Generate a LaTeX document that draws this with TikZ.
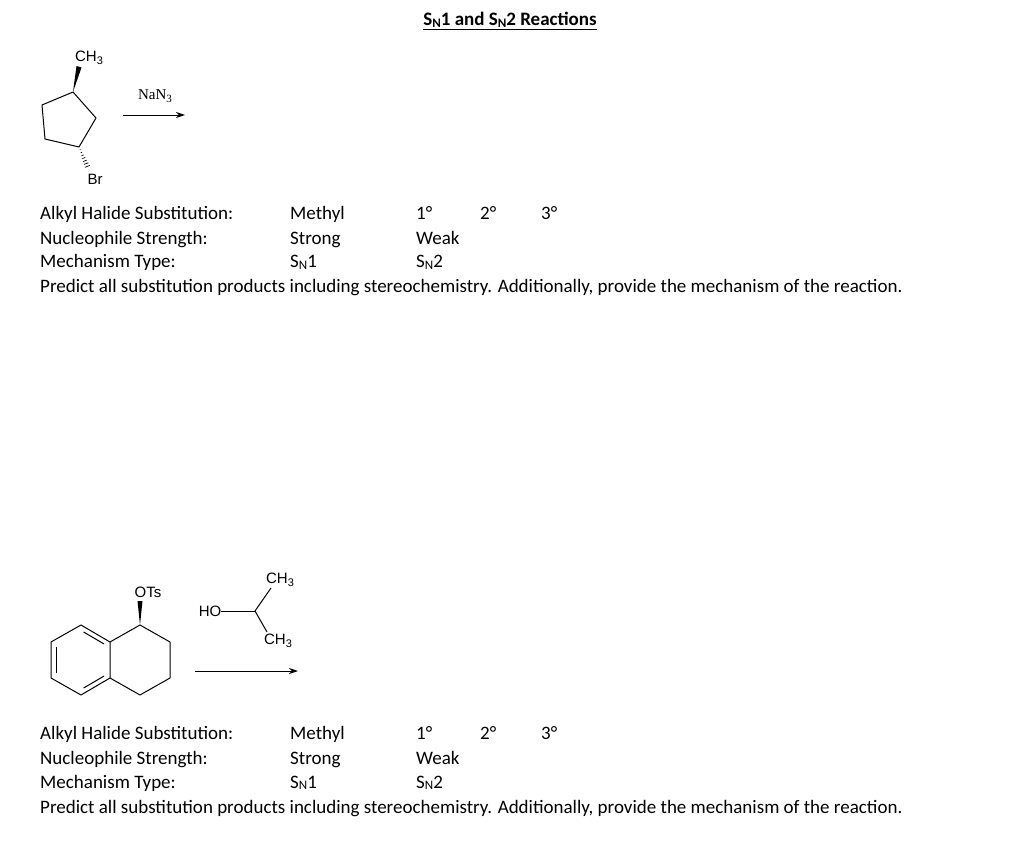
\documentclass[tikz,border=0pt]{standalone}
\usepackage{fontspec}
\setmainfont{Carlito}
\newfontfamily\arialf{Liberation Sans}
\newfontfamily\timesf{Liberation Serif}
\usetikzlibrary{calc,arrows.meta}
\newcommand{\sN}{S\raisebox{-1.5pt}{\fontsize{13}{13}\selectfont N}}
\newcommand{\subthree}{\raisebox{-3pt}{\fontsize{11}{11}\selectfont 3}}
\begin{document}
\begin{tikzpicture}[x=1pt,y=-1pt,
  txt/.style={anchor=base west,inner sep=0,font=\fontsize{19}{22}\selectfont},
  atom/.style={inner sep=0,font=\arialf\fontsize{15}{17}\selectfont},
  bnd/.style={line width=1pt},
  arr/.style={line width=0.9pt,-{Stealth[length=9pt,width=6pt]}}]
\useasboundingbox (0,0) rectangle (1024,858);
\node[inner sep=0,font=\bfseries\fontsize{19}{22}\selectfont] (title) at (510,21) {\underline{\sN1 and \sN2 Reactions}};
% ---- top molecule
\coordinate (a1) at (73,92); \coordinate (a2) at (96,118); \coordinate (a3) at (79,147);
\coordinate (a4) at (45,139); \coordinate (a5) at (42,105);
\draw[bnd,line join=round] (a1)--(a2)--(a3)--(a4)--(a5)--cycle;
\node[atom] (ch3a) at (89,58) {CH\subthree};
\fill (a1) -- (76.5,66) -- (81.5,67.5) -- cycle;
\node[atom] (br) at (95,179) {Br};
\foreach \t in {0.12,0.24,...,0.96} {
  \draw[line width=0.7pt] ($(a3)!\t!(89,170)+(-3*\t,1.2*\t)$) -- ($(a3)!\t!(89,170)+(3*\t,-1.2*\t)$);
}
\coordinate (r1s) at (123,115); \coordinate (r1e) at (185,115);
\draw[arr] (r1s) -- (r1e);
\node[inner sep=0,font=\timesf\fontsize{15}{17}\selectfont] (nan3) at (155,96) {NaN\subthree};
% ---- question block 1
\node[txt] (q1a) at (40,220) {Alkyl Halide Substitution:};
\node[txt] (q1b) at (290,220) {Methyl};
\node[txt] (q1c) at (416,220) {1°};
\node[txt] (q1d) at (480,220) {2°};
\node[txt] (q1e) at (541,220) {3°};
\node[txt] (q1f) at (40,245) {Nucleophile Strength:};
\node[txt] (q1g) at (290,245) {Strong};
\node[txt] (q1h) at (416,245) {Weak};
\node[txt] (q1i) at (40,268) {Mechanism Type:};
\node[txt] (q1j) at (290,268) {\sN1};
\node[txt] (q1k) at (416,268) {\sN2};
\node[txt] (q1l) at (40,292) {Predict all substitution products including stereochemistry. Additionally, provide the mechanism of the reaction.};
% ---- bottom molecule
\coordinate (b1) at (81,625); \coordinate (b2) at (110,642); \coordinate (b3) at (110,678);
\coordinate (b4) at (81,695); \coordinate (b5) at (51,678); \coordinate (b6) at (51,642);
\coordinate (c1) at (140,625); \coordinate (c2) at (170,642); \coordinate (c3) at (170,678); \coordinate (c4) at (140,695);
\draw[bnd,line join=round] (b1)--(b2)--(b3)--(b4)--(b5)--(b6)--cycle;
\draw[bnd,line join=round] (b2)--(c1)--(c2)--(c3)--(c4)--(b3);
\draw[bnd] ($(b1)!0.15!(b2)+(-1.8,4.4)$) -- ($(b1)!0.85!(b2)+(-1.8,4.4)$);
\draw[bnd] ($(b3)!0.15!(b4)+(-1.8,-4.4)$) -- ($(b3)!0.85!(b4)+(-1.8,-4.4)$);
\draw[bnd] ($(b5)!0.15!(b6)+(5,0)$) -- ($(b5)!0.85!(b6)+(5,0)$);
\node[atom] (ots) at (148,592) {OTs};
\fill (c1) -- (137.5,601) -- (142.5,601) -- cycle;
\node[atom] (ho) at (210,611) {HO};
\coordinate (ic) at (255,611);
\node[atom] (ch3b) at (280,580) {CH\subthree};
\node[atom] (ch3c) at (278,641) {CH\subthree};
\draw[bnd] (ho.east) -- (ic);
\draw[bnd] (ic) -- (271,588);
\draw[bnd] (ic) -- (267,632);
\coordinate (r2s) at (195,671); \coordinate (r2e) at (298,671);
\draw[arr] (r2s) -- (r2e);
% ---- question block 2
\node[txt] (q2a) at (40,739) {Alkyl Halide Substitution:};
\node[txt] (q2b) at (290,739) {Methyl};
\node[txt] (q2c) at (416,739) {1°};
\node[txt] (q2d) at (480,739) {2°};
\node[txt] (q2e) at (541,739) {3°};
\node[txt] (q2f) at (40,764) {Nucleophile Strength:};
\node[txt] (q2g) at (290,764) {Strong};
\node[txt] (q2h) at (416,764) {Weak};
\node[txt] (q2i) at (40,788) {Mechanism Type:};
\node[txt] (q2j) at (290,788) {\sN1};
\node[txt] (q2k) at (416,788) {\sN2};
\node[txt] (q2l) at (40,813) {Predict all substitution products including stereochemistry. Additionally, provide the mechanism of the reaction.};
\end{tikzpicture}
\end{document}
